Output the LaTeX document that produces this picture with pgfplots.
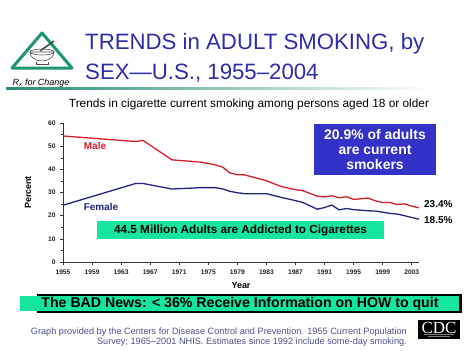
\documentclass[border=0pt]{standalone}
\usepackage{fontspec}
\setmainfont{Liberation Sans}
\newfontfamily\seriffont{Liberation Serif}
\usepackage{pgfplots}
\pgfplotsset{compat=1.18}
\definecolor{titleblue}{RGB}{45,45,170}
\definecolor{teal1}{RGB}{40,140,120}
\definecolor{logogreen}{RGB}{30,150,110}
\definecolor{boxblue}{RGB}{50,50,200}
\definecolor{boxgreen}{RGB}{20,230,160}
\definecolor{malered}{RGB}{215,30,45}
\definecolor{femnavy}{RGB}{35,35,130}
\definecolor{foot}{RGB}{80,80,140}
\begin{document}
\begin{tikzpicture}[x=1bp,y=1bp]
\path[fill=white,use as bounding box] (0,0) rectangle (474,355);
% logo
\draw[logogreen, line width=3bp, line join=round] (42,322)--(12,287)--(72,287)--cycle;
\draw[gray!60!black, line width=0.6bp, fill=white] (30,303) arc[start angle=180,end angle=360,x radius=12,y radius=9] -- cycle;
\draw[gray!60!black, line width=0.6bp] (42,303) ellipse[x radius=12,y radius=3];
\draw[gray!60!black, line width=1.6bp] (40,304)--(54,314);
\draw[gray!60!black, line width=0.6bp] (36,293)--(36,291)--(48,291)--(48,293);
\node[font=\itshape\fontsize{9}{9}\selectfont, anchor=center] at (41,272) {R\textsubscript{x} for Change};
% title
\node[anchor=base west, inner sep=0, text=titleblue, font=\fontsize{22.3}{24}\selectfont] at (85,306) {TRENDS in ADULT SMOKING, by};
\node[anchor=base west, inner sep=0, text=titleblue, font=\fontsize{22.3}{24}\selectfont] at (85,276) {SEX—U.S., 1955–2004};
\shade[left color=teal1, right color=white] (6,265.5) rectangle (433,267.5);
\node[anchor=center, inner sep=0, font=\fontsize{11.9}{12}\selectfont] at (249,251) {Trends in cigarette current smoking among persons aged 18 or older};
% axis
\begin{axis}[
  at={(63bp,93bp)}, anchor=south west,
  scale only axis, width=356bp, height=139bp,
  xmin=1955, xmax=2004, ymin=0, ymax=60,
  axis lines=left, axis line style={-, black!80, line width=0.6bp},
  xtick={1955,1959,...,2003}, minor x tick num=3,
  ytick={0,10,...,60}, minor y tick num=1,
  tick align=outside, tick style={black!80, line width=0.5bp},
  major tick length=3bp, minor tick length=2bp,
  /pgf/number format/assume math mode=true,
  /pgf/number format/1000 sep={},
  tick label style={font=\bfseries\fontsize{6.7}{7}\selectfont, black!85},
  yticklabel style={xshift=-1bp},
  xticklabel style={yshift=-1bp},
  xlabel={Year}, ylabel={Percent},
  xlabel style={at={(rel axis cs:0.5,0)}, anchor=center, yshift=-23bp, font=\bfseries\fontsize{9}{10}\selectfont},
  ylabel style={at={(axis description cs:-0.098,0.5)}, anchor=center, font=\bfseries\fontsize{9}{10}\selectfont},
  clip=false,
]
\addplot[malered, line width=1.3bp] coordinates {
(1955,54.4) (1965,52.0) (1966,52.5) (1970,44.1) (1974,43.1) (1976,41.9) (1977,40.9) (1978,38.4) (1979,37.7) (1980,37.6) (1983,35.1) (1985,32.6) (1987,31.2) (1988,30.8) (1990,28.4) (1991,28.1) (1992,28.6) (1993,27.7) (1994,28.2) (1995,27.0) (1997,27.6) (1998,26.4) (1999,25.7) (2000,25.7) (2001,24.8) (2002,25.1) (2003,24.1) (2004,23.4)};
\addplot[femnavy, line width=1.3bp] coordinates {
(1955,24.5) (1965,33.9) (1966,33.9) (1970,31.5) (1974,32.1) (1976,32.1) (1977,31.5) (1978,30.5) (1979,29.9) (1980,29.5) (1983,29.5) (1985,27.9) (1987,26.5) (1988,25.7) (1990,22.8) (1991,23.5) (1992,24.6) (1993,22.5) (1994,23.1) (1995,22.6) (1997,22.1) (1998,22.0) (1999,21.5) (2000,21.0) (2001,20.7) (2002,20.0) (2003,19.2) (2004,18.5)};
\end{axis}
% annotations
\node[text=malered, font=\bfseries\fontsize{10}{11}\selectfont] at (95,209) {Male};
\node[text=femnavy, font=\bfseries\fontsize{10}{11}\selectfont] at (101,148) {Female};
\node[anchor=west, inner sep=0, font=\bfseries\fontsize{10}{11}\selectfont] at (424,151) {23.4\%};
\node[anchor=west, inner sep=0, font=\bfseries\fontsize{10}{11}\selectfont] at (424,135) {18.5\%};
\fill[boxblue] (314,231) rectangle (436,180);
\node[text=white, align=center, font=\bfseries\fontsize{14}{15.5}\selectfont] at (375,205.5) {20.9\% of adults\\are current\\smokers};
\fill[boxgreen] (97,134) rectangle (384,116);
\node[font=\bfseries\fontsize{11.8}{12}\selectfont] at (240.5,125) {44.5 Million Adults are Addicted to Cigarettes};
% bad news
\fill[black] (37,61) rectangle (462,42);
\fill[boxgreen] (20,59) rectangle (459,44);
\node[font=\bfseries\fontsize{14.2}{15}\selectfont] at (240,51.5) {The BAD News: < 36\% Receive Information on HOW to quit};
% footer
\node[anchor=east, align=right, text=foot, inner sep=0, font=\fontsize{9.2}{10}\selectfont] at (407,18) {Graph provided by the Centers for Disease Control and Prevention. 1955 Current Population\\Survey; 1965–2001 NHIS. Estimates since 1992 include some-day smoking.};
\fill[black] (418,16) rectangle (460,35);
\node[text=white, font=\seriffont\fontsize{17}{17}\selectfont, inner sep=0] at (439,27) {CDC};
\draw[gray, line width=0.3bp] (424,20.5)--(454,20.5);
\draw[gray, line width=0.3bp] (428,18.5)--(450,18.5);
\end{tikzpicture}
\end{document}
